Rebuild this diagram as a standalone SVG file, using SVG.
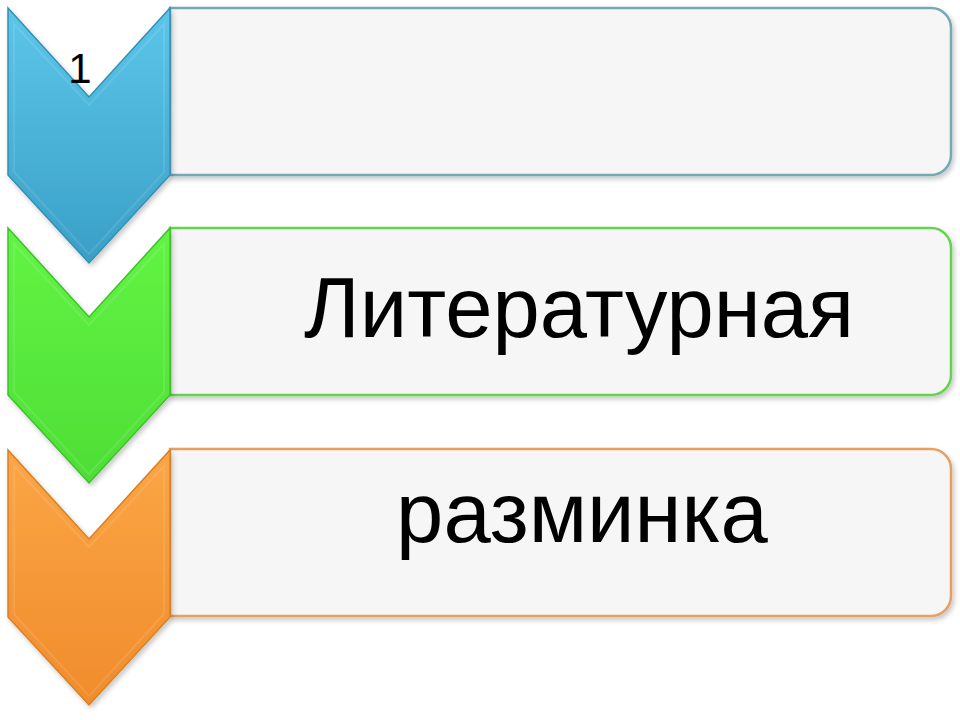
<svg xmlns="http://www.w3.org/2000/svg" width="960" height="720" viewBox="0 0 960 720">
<defs>
<linearGradient id="gBlue" x1="0" y1="0" x2="0" y2="1">
<stop offset="0" stop-color="#5cc6ea"/><stop offset="1" stop-color="#3a9fc6"/>
</linearGradient>
<linearGradient id="gGreen" x1="0" y1="0" x2="0" y2="1">
<stop offset="0" stop-color="#62f444"/><stop offset="1" stop-color="#4ede36"/>
</linearGradient>
<linearGradient id="gOrange" x1="0" y1="0" x2="0" y2="1">
<stop offset="0" stop-color="#fba646"/><stop offset="1" stop-color="#f08c2c"/>
</linearGradient>
<filter id="sh" x="-5%" y="-10%" width="110%" height="125%">
<feDropShadow dx="2" dy="3" stdDeviation="2.5" flood-color="#000" flood-opacity="0.22"/>
</filter>
<polygon id="chev" points="8,0 89,89 170,0 170,167 89,255 8,167"/>
<polygon id="bevel" points="14,16 89,97 164,16 164,164 89,246 14,164"/>
<path id="boxp" d="M170,0 H931 A20,20 0 0 1 951,20 V147 A20,20 0 0 1 931,167 H170 Z"/>
</defs>
<style>
.box{fill:#f6f6f6;stroke-width:2.5}
.lbl{font-family:"Liberation Sans",Arial,sans-serif;fill:#000}
.big{font-size:85px;text-anchor:middle}
.bev{fill:none;stroke:#fff;stroke-opacity:0.1;stroke-width:2}
</style>
<rect width="960" height="720" fill="#ffffff"/>
<g id="step1">
<use href="#boxp" class="box" transform="translate(0,8)" stroke="#74a9b4" filter="url(#sh)"/>
<g transform="translate(0,8)" filter="url(#sh)">
<use href="#chev" fill="url(#gBlue)" stroke="#3290b4" stroke-width="1.5"/>
<use href="#bevel" class="bev"/>
</g>
<text class="lbl" x="80" y="83" font-size="42" text-anchor="middle">1</text>
</g>
<g id="step2">
<use href="#boxp" class="box" transform="translate(0,228)" stroke="#66d24e" filter="url(#sh)"/>
<g transform="translate(0,228)" filter="url(#sh)">
<use href="#chev" fill="url(#gGreen)" stroke="#3fc02c" stroke-width="1.5"/>
<use href="#bevel" class="bev"/>
</g>
<text class="lbl big" x="579" y="337">Литературная</text>
</g>
<g id="step3">
<use href="#boxp" class="box" transform="translate(0,449)" stroke="#e6a062" filter="url(#sh)"/>
<g transform="translate(0,450)" filter="url(#sh)">
<use href="#chev" fill="url(#gOrange)" stroke="#d98022" stroke-width="1.5"/>
<use href="#bevel" class="bev"/>
</g>
<text class="lbl big" x="582" y="542">разминка</text>
</g>
<g id="connectors"/>
</svg>
